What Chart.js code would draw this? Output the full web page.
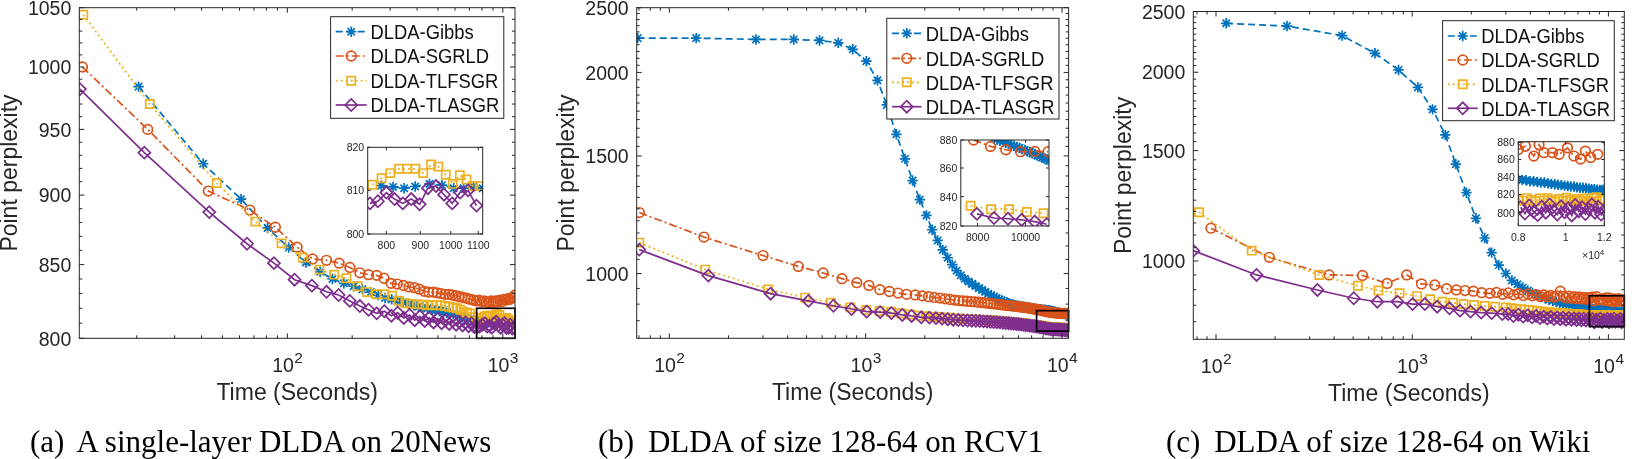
<!DOCTYPE html>
<html>
<head>
<meta charset="utf-8">
<title>DLDA point perplexity versus time</title>
<script src="https://cdn.jsdelivr.net/npm/chart.js@4.4.1/dist/chart.umd.min.js"></script>
<style>
  html, body { margin: 0; padding: 0; background: #fff; }
  #page { position: relative; width: 1632px; height: 459px; overflow: hidden; background: #fff; }
  #page canvas { position: absolute; }
  .caption { position: absolute; top: 426px; font-family: "Liberation Serif", "Times New Roman", serif;
             font-size: 31px; line-height: 31px; color: #000; white-space: nowrap; }
  .caption span { margin-right: 6px; }
</style>
</head>
<body>
<div id="page">
  <canvas id="chartA" width="544" height="459" style="left:0;top:0"></canvas>
  <canvas id="chartB" width="544" height="459" style="left:544px;top:0"></canvas>
  <canvas id="chartC" width="544" height="459" style="left:1088px;top:0"></canvas>
  <canvas id="insetA" width="170" height="125" style="left:327px;top:137px"></canvas>
  <canvas id="insetB" width="135" height="125" style="left:925px;top:130px"></canvas>
  <canvas id="insetC" width="135" height="140" style="left:1485px;top:131px"></canvas>
  <div class="caption" style="left:30px"><span>(a)</span> A single-layer DLDA on 20News</div>
  <div class="caption" style="left:598px"><span>(b)</span> DLDA of size 128-64 on RCV1</div>
  <div class="caption" style="left:1166px"><span>(c)</span> DLDA of size 128-64 on Wiki</div>
</div>
<script>
// ---- (a) single-layer DLDA on 20News ----
var timeGibbsA = [20.4, 40.7, 61, 81, 101.5, 122, 142, 162, 183, 203, 223, 244, 264, 284, 305, 325, 345, 366, 386, 406,
  426, 447, 467, 487, 508, 528, 548, 569, 589, 609, 630, 650, 670, 690, 711, 731, 751, 772, 792, 812,
  833, 853, 873, 894, 914, 934, 955, 975, 995, 1015, 1036, 1056, 1076, 1097, 1117, 1137];
var gibbsA = [984, 923.5, 897, 876, 862, 851.5, 845, 840, 837, 835, 833, 831, 829, 827, 826, 825, 824, 823, 822, 821,
  820.5, 820, 819, 818.5, 818, 817.5, 817, 816.5, 816, 815.5, 815, 814, 813.5, 813, 812.5, 812, 811.5, 811, 811, 810.8,
  810.5, 810.5, 810.8, 811, 811.3, 811.5, 811.2, 811, 810.7, 810.5, 810.5, 810.5, 810.8, 810.6, 810.5, 810.5];
var timeSgrldA = [11.2, 22.5, 43, 67, 88, 111, 131, 152, 174, 195, 217, 238, 260, 281, 303, 324, 346, 367, 389, 410,
  432, 453, 475, 496, 518, 539, 561, 582, 604, 625, 647, 668, 690, 711, 733, 754, 776, 797, 819, 840,
  862, 883, 905, 926, 948, 969, 991, 1012, 1034, 1055, 1077, 1098, 1120, 1139];
var sgrldA = [1000, 950, 903, 889, 876.5, 862.3, 854, 853, 851, 848, 844.3, 843, 842.5, 840.5, 837, 836.5, 835.5, 834.5, 834, 833,
  831.5, 831, 831, 830.5, 830, 829.5, 829.5, 829, 828.5, 828, 827.5, 827, 826.5, 826, 825.5, 825, 825.5, 824.5, 825, 824.5,
  824, 825, 824, 825, 824.5, 825.5, 824.5, 826, 825.5, 826.5, 826, 827, 827.5, 829];
var timeTlfsgrA = [11.3, 23, 47, 71, 94, 118, 141, 165, 188, 212, 235, 259, 282, 306, 329, 353, 376, 400, 423, 447,
  470, 494, 517, 541, 564, 588, 611, 635, 658, 682, 705, 729, 752, 776, 799, 823, 846, 870, 893, 917,
  940, 964, 987, 1011, 1034, 1058, 1081, 1105, 1128];
var tlfsgrA = [1044, 970, 909, 880.6, 865, 855, 846.5, 843, 840.5, 835, 831, 829.5, 829.5, 828.5, 825, 823.5, 823, 822.8, 822.5, 822,
  822.3, 822, 822, 821.5, 821, 820.5, 820, 819, 817.5, 817, 816.5, 814, 811.5, 812, 813.5, 814.5, 815, 815, 814.5, 815,
  816, 815.5, 813.5, 811.5, 813.5, 812.5, 811, 811, 811];
var timeTlasgrA = [10.9, 21.7, 43.4, 65, 86.7, 108, 130, 152, 173, 195, 217, 238, 260, 282, 304, 325, 347, 369, 390, 412,
  434, 455, 477, 499, 520, 542, 564, 586, 607, 629, 651, 672, 694, 716, 737, 759, 781, 802, 824, 846,
  867, 889, 911, 932, 954, 976, 997, 1019, 1041, 1063, 1084, 1106, 1128];
var tlasgrA = [982, 932, 887.5, 864.7, 851, 839.5, 835.4, 831.2, 829, 825, 821.5, 819, 816.6, 818, 815, 817, 813.5, 815.5, 812, 814.5,
  811.5, 813.5, 810.5, 813, 810, 812, 809.5, 811.5, 809, 811, 808.5, 810.5, 808, 810, 807.5, 807.3, 807.7, 809, 810, 807.8,
  808.2, 807, 810, 811, 808.6, 807, 809, 810, 806.7, 807, 809, 806.5, 807];
// inset of (a)
var insetTimeGibbsA = [786, 819, 851, 884, 929, 970, 1010, 1046, 1082, 1117];
var insetGibbsA = [811.1, 810.8, 810.5, 810.9, 811.5, 811.2, 810.5, 810.5, 810.9, 810.5];
var insetTimeTlfsgrA = [762, 787, 811, 836, 860, 885, 909, 934, 958, 983, 1007, 1032, 1056, 1081, 1105];
var insetTlfsgrA = [811.3, 812.8, 814, 815, 815, 815, 814, 816, 815.5, 813.6, 811.5, 813.5, 812.5, 811, 811];
var insetTimeTlasgrA = [756, 777, 800, 823, 847, 872, 898, 924, 950, 977, 1005, 1033, 1062, 1093];
var insetTlasgrA = [807, 807.5, 809.5, 808, 807, 808, 806.8, 810.5, 811, 809, 807, 809.5, 810, 806.5];

// ---- (b) DLDA 128-64 on RCV1 ----
var timeGibbsB = [69, 137, 276, 430, 582, 725, 859, 1008, 1148, 1281, 1433, 1585, 1733, 1886, 2040, 2180, 2326, 2470, 2615, 2760,
  2905, 3050, 3195, 3340, 3485, 3630, 3775, 3920, 4065, 4210, 4355, 4500, 4645, 4790, 4935, 5080, 5225, 5370, 5515, 5660,
  5805, 5950, 6095, 6240, 6385, 6530, 6675, 6820, 6965, 7110, 7255, 7400, 7545, 7690, 7835, 7980, 8125, 8270, 8415, 8560,
  8705, 8850, 8995, 9140, 9285, 9430, 9575, 9720, 9865, 10010, 10155, 10300, 10445, 10590, 10735];
var gibbsB = [2251, 2251, 2241, 2241, 2233, 2215, 2166, 2079, 1946, 1788, 1616, 1485, 1378, 1290, 1222, 1163, 1121, 1085, 1056, 1031,
  1010, 994, 982, 973, 965, 958, 951, 945, 939, 933, 928, 923, 919, 915, 911, 908, 905, 902.5, 900, 898,
  896.5, 895, 894, 893, 892, 891, 890, 889, 888, 887, 886, 885, 884.6, 884.1, 883.6, 883.1, 882.6, 882.1, 881.6, 881,
  880.4, 879.2, 878, 877.2, 876.3, 875.6, 874.5, 873.6, 872.5, 871.8, 870.9, 870, 869.3, 868.2, 867.3];
var timeSgrldB = [70.3, 150, 300, 454, 607, 757, 901, 1038, 1181, 1322, 1462, 1617, 1789, 1940, 2090, 2240, 2390, 2540, 2690, 2840,
  2990, 3140, 3290, 3440, 3590, 3740, 3890, 4040, 4190, 4340, 4490, 4640, 4790, 4940, 5090, 5240, 5390, 5540, 5690, 5840,
  5990, 6140, 6290, 6440, 6590, 6740, 6890, 7040, 7190, 7340, 7490, 7640, 7790, 7940, 8090, 8240, 8390, 8540, 8690, 8840,
  8990, 9140, 9290, 9440, 9590, 9740, 9890, 10040, 10190, 10340, 10490, 10640, 10790];
var sgrldB = [1234, 1134, 1064, 1025, 1002, 982.5, 969, 960, 946, 940, 935, 931, 929, 926, 923.5, 921, 919, 916.5, 914.5, 912.5,
  911, 910, 909, 908, 907, 906, 905, 904, 903, 902, 901, 900, 899, 898, 897, 896, 895.5, 894.5, 894, 893,
  892, 891, 890.5, 889.5, 889, 888, 887, 886, 885, 884.5, 883.5, 882.5, 881.5, 880.5, 879, 878, 877, 876, 875, 874.5,
  874, 873.5, 873, 872.5, 872, 872, 871.5, 871.5, 871.5, 871.8, 871.8, 871.6, 871.6];
var timeTlfsgrB = [70.3, 152.5, 319, 492, 666, 836, 1006, 1176, 1346, 1516, 1686, 1856, 2026, 2196, 2366, 2536, 2706, 2876, 3046, 3216,
  3386, 3556, 3726, 3896, 4066, 4236, 4406, 4576, 4746, 4916, 5086, 5256, 5426, 5596, 5766, 5936, 6106, 6276, 6446, 6616,
  6786, 6956, 7126, 7296, 7466, 7636, 7806, 7976, 8146, 8316, 8486, 8656, 8826, 8996, 9166, 9336, 9506, 9676, 9846, 10016,
  10186, 10356, 10526, 10696];
var tlfsgrB = [1112.5, 1013.7, 947, 920.4, 904.6, 890, 882, 879, 876.5, 872, 868.5, 865, 863.5, 862, 861, 859.5, 858.5, 857, 856, 855,
  854.5, 854, 853, 852.5, 852, 851, 850.5, 850, 849, 848.5, 848, 847, 846.5, 845.5, 845, 844, 843.5, 842.5, 842, 841,
  840.5, 839.5, 839, 838, 837.5, 836.5, 835.5, 834.5, 833.5, 833, 832, 831.5, 831.5, 831.5, 831.5, 831, 830.5, 830, 830, 829.5,
  829, 829, 828.5, 828.5];
var timeTlasgrB = [70.3, 158, 328, 511, 685, 847, 1012, 1185, 1352, 1536, 1713, 1920, 2111, 2280, 2450, 2620, 2790, 2960, 3130, 3300,
  3470, 3640, 3810, 3980, 4150, 4320, 4490, 4660, 4830, 5000, 5170, 5340, 5510, 5680, 5850, 6020, 6190, 6360, 6530, 6700,
  6870, 7040, 7210, 7380, 7550, 7720, 7890, 8060, 8230, 8400, 8570, 8740, 8910, 9080, 9250, 9420, 9590, 9760, 9930, 10100,
  10270, 10440, 10610, 10780];
var tlasgrB = [1086, 993, 933, 910, 895, 885, 877, 875.5, 872.5, 867, 864, 860, 859, 857.5, 856, 854.5, 853, 852, 851, 850.5,
  850, 849.5, 849, 848, 847.5, 847, 846, 845.5, 845, 844, 843.5, 842.5, 842, 841, 840.5, 839.5, 839, 838, 837, 836.5,
  835.5, 835, 834, 833, 832, 831, 830, 829, 828, 827, 826.5, 826, 825.5, 825, 825, 824.5, 824.5, 824, 824, 823.5,
  823, 823, 822, 821.5];
// inset of (b)
var insetTimeGibbsB = [8640, 8760, 8880, 9000, 9120, 9240, 9360, 9480, 9600, 9720, 9840, 9960, 10080, 10200, 10320, 10440,
  10560, 10680, 10800, 10920, 11040, 11150];
var insetGibbsB = [881, 880.3, 879.4, 878.8, 877.9, 877.3, 876.4, 875.8, 874.9, 874.3, 873.4, 872.8, 871.9, 871.3, 870.4, 869.8,
  868.9, 868.3, 867.4, 866.8, 866, 865.2];
var insetTimeSgrldB = [7850, 8496, 9123, 9770, 10437, 11100];
var insetSgrldB = [880, 875.4, 873, 871.6, 871.8, 871.6];
var insetTimeTlfsgrB = [7746, 8520, 9263, 10056, 10867];
var insetTlfsgrB = [833.7, 831.4, 831.4, 829.5, 828.6];
var insetTimeTlasgrB = [7975, 8636, 9215, 9818, 10437, 11030];
var insetTlasgrB = [828.2, 825.4, 824.9, 824.2, 823, 821.2];

// ---- (c) DLDA 128-64 on Wiki ----
var timeGibbsC = [112.6, 230, 439, 646, 852, 1068, 1270, 1474, 1668, 1889, 2111, 2341, 2541, 2762, 3000, 3220, 3440, 3660, 3880, 4100,
  4320, 4540, 4760, 4980, 5200, 5420, 5640, 5860, 6080, 6300, 6520, 6740, 6960, 7180, 7400, 7620, 7840, 8060, 8280, 8500,
  8720, 8940, 9160, 9380, 9600, 9820, 10040, 10260, 10480, 10700, 10920, 11140, 11360, 11580, 11800, 12020];
var gibbsC = [2394, 2370, 2288, 2144, 2017, 1892, 1745, 1589, 1427, 1285, 1170, 1088, 1031, 985, 955, 931, 918, 907, 897, 889,
  883, 877, 872, 867, 864, 860, 857, 854.5, 852.5, 850.5, 849, 847.5, 846, 845, 843.5, 842.5, 841, 840, 839, 838.5,
  837.5, 837, 836, 835.5, 835, 834, 833.5, 833, 832.5, 832, 831, 830.5, 830, 829.5, 829, 828.5];
var timeSgrldC = [94.2, 187, 377, 558, 745, 937, 1115, 1303, 1497, 1679, 1857, 2052, 2260, 2485, 2690, 2890, 3090, 3290, 3490, 3690,
  3890, 4090, 4290, 4490, 4690, 4890, 5090, 5290, 5490, 5690, 5890, 6090, 6290, 6490, 6690, 6890, 7090, 7290, 7490, 7690,
  7890, 8090, 8290, 8490, 8690, 8890, 9090, 9290, 9490, 9690, 9890, 10090, 10290, 10490, 10690, 10890, 11090, 11290, 11490, 11690,
  11890, 12040];
var sgrldC = [1128, 1013.5, 950, 948, 921, 950, 919, 915.5, 903, 899, 897, 895, 890, 888, 891, 885, 889, 883, 887, 881,
  886, 880, 884, 878, 883, 877, 881, 876, 880, 895, 878, 873, 879, 872, 877, 871, 876, 870, 875, 869,
  874, 872, 875.5, 864, 877, 868, 868, 870, 866, 873.5, 864, 873, 864, 860.5, 869.8, 862.3, 866, 871, 863, 866,
  862, 866];
var timeTlfsgrC = [81.9, 152, 336, 529, 673, 862, 1060, 1234, 1425, 1614, 1827, 2067, 2340, 2647, 3000, 3190, 3380, 3570, 3760, 3950,
  4140, 4330, 4520, 4710, 4900, 5090, 5280, 5470, 5660, 5850, 6040, 6230, 6420, 6610, 6800, 6990, 7180, 7370, 7560, 7750,
  7940, 8130, 8320, 8510, 8700, 8890, 9080, 9270, 9460, 9650, 9840, 10030, 10220, 10410, 10600, 10790, 10980, 11170, 11360, 11550,
  11740, 11930];
var tlfsgrC = [1196, 1038.6, 950, 913, 897, 888, 879, 868.7, 861, 857.8, 853.7, 850.5, 847.4, 845.4, 843, 841, 839.5, 838, 836.5, 835,
  833.5, 832, 831, 830, 829, 828, 827, 826, 825.5, 825, 824.5, 824, 823.5, 823, 822.5, 822, 821.5, 821, 820.5, 820.5,
  820, 819, 820.5, 818, 819.5, 817.5, 820, 818, 816.5, 819, 817, 818.5, 816, 819.5, 817, 818, 816.5, 820, 817.5, 819,
  816, 818];
var timeTlasgrC = [76.6, 161, 329, 503.5, 664, 841, 1004, 1160, 1341, 1549, 1752, 1984, 2246, 2541, 2877,
  3080, 3280, 3480, 3680, 3880, 4080, 4280, 4480, 4680, 4880, 5080, 5280, 5480, 5680, 5880, 6080, 6280, 6480, 6680, 6880,
  7080, 7280, 7480, 7680, 7880, 8080, 8280, 8480, 8680, 8880, 9080, 9280, 9480, 9680, 9880, 10080, 10280, 10480, 10680, 10880,
  11080, 11280, 11480, 11680, 11880, 12040];
var tlasgrC = [1038.6, 950, 899, 872, 861, 861, 853.7, 853.7, 845.4, 840.4, 833.2, 830.3, 827.4, 825.6, 822.7,
  823, 817, 821, 815, 819, 813, 817, 811, 815, 809.5, 814, 808, 813, 807.5, 812, 806, 811, 805.5, 810, 805,
  809.5, 804, 809, 803.5, 808.5, 803, 808, 798.5, 806, 801, 809, 799, 805, 802, 808.5, 798, 806.5, 800.5, 809, 799.5,
  804, 801, 808, 798.5, 805, 802];
// inset of (c)
var insetTimeGibbsC = [8000, 8150, 8300, 8450, 8600, 8750, 8900, 9050, 9200, 9350, 9500, 9650, 9800, 9950, 10100, 10250,
  10400, 10550, 10700, 10850, 11000, 11150, 11300, 11450, 11600, 11750, 11900, 12000];
var insetGibbsC = [837, 836.5, 836, 835, 835, 834, 833.5, 833.5, 832.5, 832, 831.5, 831, 830.5, 830, 829.5, 829,
  829, 828, 827.5, 827.5, 827, 826.5, 826, 826, 825.5, 825, 825, 825.5];
var insetTimeSgrldC = [8000, 8272, 8608, 8822, 9031, 9400, 9699, 10086, 10401, 10727, 10977, 11255, 11631];
var insetSgrldC = [871.7, 875.5, 864, 877.4, 868, 868, 866, 873.7, 864, 860.4, 869.8, 862.3, 866];
var insetTimeTlfsgrC = [8000, 8170, 8340, 8510, 8680, 8850, 9020, 9190, 9360, 9530, 9700, 9870, 10040, 10210, 10380, 10550,
  10720, 10890, 11060, 11230, 11400, 11570, 11740, 11910];
var insetTlfsgrC = [815, 813, 816, 814, 812.5, 815.5, 813.5, 816, 814, 812, 815, 813, 816.5, 814, 812.5, 815,
  813, 815.5, 813.5, 812, 816, 817, 813.5, 815];
var insetTimeTlasgrC = [8085, 8255, 8425, 8595, 8765, 8935, 9105, 9275, 9445, 9615, 9785, 9955, 10125, 10295, 10465, 10635,
  10805, 10975, 11145, 11315, 11485, 11655, 11825, 11995];
var insetTlasgrC = [806, 799, 808, 801, 797.5, 806.5, 800, 809, 802, 798, 807, 800.5, 805, 797, 808.5, 801.5,
  806, 798.5, 804, 809, 800, 806.5, 798, 803];

// ---- axes: ranges and tick values ----
var rangeXA = [10.83, 1139], rangeYA = [800, 1050];
var rangeXB = [68.2, 10800], rangeYB = [800, 2500];
var rangeXC = [76.6, 12050], rangeYC = [750, 2500];
var ticksXA = [100, 1000], ticksYA = [800, 850, 900, 950, 1000, 1050];
var ticksXB = [100, 1000, 10000], ticksYB = [1000, 1500, 2000, 2500];
var ticksXC = [100, 1000, 10000], ticksYC = [1000, 1500, 2000, 2500];
var zoomBoxA = [756, 1139, 800, 820];
var zoomBoxB = [7420, 10800, 820, 880];
var zoomBoxC = [8000, 12050, 786, 880];
var insetRangeXA = [750, 1117], insetRangeYA = [800, 820];
var insetRangeXB = [7400, 11150], insetRangeYB = [820, 880];
var insetRangeXC = [8000, 12000], insetRangeYC = [786, 881];
var insetTicksXA = [800, 900, 1000, 1100], insetTicksYA = [800, 810, 820];
var insetTicksXB = [8000, 10000], insetTicksYB = [820, 840, 860, 880];
var insetTicksXC = [8000, 10000, 12000], insetTicksYC = [800, 820, 840, 860, 880];
var insetTickLabelsXC = ['0.8', '1', '1.2'];

// ---- styles (MATLAB default colour order) ----
var SERIES_NAMES = ['DLDA-Gibbs', 'DLDA-SGRLD', 'DLDA-TLFSGR', 'DLDA-TLASGR'];
var SERIES_COLORS = ['#0072BD', '#D95319', '#EDB120', '#7E2F8E'];
var SERIES_MARKERS = ['star', 'circle', 'rect', 'rectRot'];
var SERIES_DASH = [[7, 4], [8, 3, 2, 3], [2, 3], []];
var MARKER_RADIUS = [5.2, 4.8, 5.8, 6];
var AXIS_COLOR = '#262626';
var SANS = '"Liberation Sans", Arial, Helvetica, sans-serif';

function makeSeries(i, times, values) {
  var n = Math.min(times.length, values.length);
  var pts = [];
  for (var k = 0; k < n; k++) {
    pts.push({x: times[k], y: values[k]});
  }
  return {
    label: SERIES_NAMES[i],
    data: pts,
    showLine: true,
    borderColor: SERIES_COLORS[i],
    backgroundColor: 'rgba(0,0,0,0)',
    borderWidth: 1.7,
    borderDash: SERIES_DASH[i],
    pointStyle: SERIES_MARKERS[i],
    pointRadius: MARKER_RADIUS[i],
    pointBorderColor: SERIES_COLORS[i],
    pointBackgroundColor: 'rgba(0,0,0,0)',
    pointBorderWidth: 1.7,
    order: 3 - i
  };
}

function logMinor(lo, hi) {
  var out = [];
  for (var d = 1; d <= 100000; d *= 10) {
    for (var m = 2; m <= 9; m++) {
      if (m * d > lo && m * d < hi) out.push(m * d);
    }
  }
  return out;
}

function linearMinor(from, to, step, skip) {
  var out = [];
  for (var v = from; v <= to; v += step) {
    if (skip.indexOf(v) < 0) out.push(v);
  }
  return out;
}

function strokeLine(ctx, x0, y0, x1, y1) {
  ctx.beginPath();
  ctx.moveTo(x0, y0);
  ctx.lineTo(x1, y1);
  ctx.stroke();
}

// same shapes as the Chart.js point styles, for the legend samples
function drawMarker(ctx, style, x, y, r) {
  ctx.beginPath();
  if (style === 'circle') {
    ctx.arc(x, y, r, 0, Math.PI * 2);
  } else if (style === 'rect') {
    var s = r * Math.SQRT1_2;
    ctx.rect(x - s, y - s, 2 * s, 2 * s);
  } else if (style === 'rectRot') {
    ctx.moveTo(x - r, y); ctx.lineTo(x, y - r); ctx.lineTo(x + r, y); ctx.lineTo(x, y + r);
    ctx.closePath();
  } else {
    var q = r * Math.SQRT1_2;
    ctx.moveTo(x, y - r); ctx.lineTo(x, y + r);
    ctx.moveTo(x - r, y); ctx.lineTo(x + r, y);
    ctx.moveTo(x - q, y - q); ctx.lineTo(x + q, y + q);
    ctx.moveTo(x - q, y + q); ctx.lineTo(x + q, y - q);
  }
  ctx.stroke();
}

// MATLAB-like box axes, inward ticks, labels, legend and zoom rectangle
function axesPlugin(cfg) {
  return {
    id: 'matlabAxes',
    beforeDatasetsDraw: function (chart) {
      if (!cfg.whiteArea) return;
      var a = chart.chartArea, ctx = chart.ctx;
      ctx.save();
      ctx.fillStyle = '#ffffff';
      ctx.fillRect(a.left, a.top, a.right - a.left, a.bottom - a.top);
      ctx.restore();
    },
    afterDraw: function (chart) {
      var ctx = chart.ctx, a = chart.chartArea;
      var xs = chart.scales.x, ys = chart.scales.y;
      ctx.save();

      if (cfg.zoomBox) {
        var bx0 = xs.getPixelForValue(cfg.zoomBox[0]), bx1 = xs.getPixelForValue(cfg.zoomBox[1]);
        var by0 = ys.getPixelForValue(cfg.zoomBox[2]), by1 = ys.getPixelForValue(cfg.zoomBox[3]);
        ctx.strokeStyle = '#000';
        ctx.lineWidth = 1.7;
        ctx.strokeRect(bx0, by1, bx1 - bx0, by0 - by1);
      }

      ctx.strokeStyle = AXIS_COLOR;
      ctx.lineWidth = 1;
      ctx.strokeRect(a.left, a.top, a.right - a.left, a.bottom - a.top);

      function xTick(v, len) {
        var p = xs.getPixelForValue(v);
        strokeLine(ctx, p, a.bottom, p, a.bottom - len);
        strokeLine(ctx, p, a.top, p, a.top + len);
      }
      function yTick(v, len) {
        var p = ys.getPixelForValue(v);
        strokeLine(ctx, a.left, p, a.left + len, p);
        strokeLine(ctx, a.right, p, a.right - len, p);
      }
      (cfg.xMinor || []).forEach(function (v) { xTick(v, cfg.minorLen); });
      (cfg.yMinor || []).forEach(function (v) { yTick(v, cfg.minorLen); });
      cfg.xTicks.forEach(function (v) { xTick(v, cfg.tickLen); });
      cfg.yTicks.forEach(function (v) { yTick(v, cfg.tickLen); });

      var font = cfg.fontSize + 'px ' + SANS;
      ctx.fillStyle = AXIS_COLOR;
      ctx.textBaseline = 'alphabetic';
      ctx.font = font;
      ctx.textAlign = 'right';
      cfg.yTicks.forEach(function (v) {
        ctx.fillText(String(v), a.left - cfg.yLabelGap, ys.getPixelForValue(v) + cfg.fontSize * 0.37);
      });

      cfg.xTicks.forEach(function (v, k) {
        var p = xs.getPixelForValue(v), base = a.bottom + cfg.xLabelDrop;
        if (cfg.xLabels) {
          ctx.font = font;
          ctx.textAlign = 'center';
          ctx.fillText(cfg.xLabels[k], p, base);
          return;
        }
        var e = String(Math.round(Math.log10(v)));
        ctx.font = font;
        var w1 = ctx.measureText('10').width;
        ctx.font = cfg.expSize + 'px ' + SANS;
        var w2 = ctx.measureText(e).width;
        var x0 = p - (w1 + w2) / 2;
        ctx.textAlign = 'left';
        ctx.font = font;
        ctx.fillText('10', x0, base);
        ctx.font = cfg.expSize + 'px ' + SANS;
        ctx.fillText(e, x0 + w1 + 0.5, base - cfg.expRise);
      });

      if (cfg.multiplier) {
        ctx.font = '8px ' + SANS;
        var we = ctx.measureText(cfg.multiplier[1]).width;
        ctx.textAlign = 'right';
        ctx.fillText(cfg.multiplier[1], a.right, a.bottom + 29);
        ctx.font = font;
        ctx.fillText(cfg.multiplier[0], a.right - we, a.bottom + 33);
      }

      if (cfg.xTitle) {
        ctx.font = '23px ' + SANS;
        ctx.textAlign = 'center';
        ctx.fillText(cfg.xTitle, (a.left + a.right) / 2, a.bottom + 61.5);
      }
      if (cfg.yTitle) {
        ctx.save();
        ctx.font = '23px ' + SANS;
        ctx.translate(a.left - 62.3, (a.top + a.bottom) / 2);
        ctx.rotate(-Math.PI / 2);
        ctx.textAlign = 'center';
        ctx.fillText(cfg.yTitle, 0, 0);
        ctx.restore();
      }

      if (cfg.legend) {
        var L = cfg.legend;
        ctx.fillStyle = '#ffffff';
        ctx.fillRect(L.x, L.y, L.w, L.h);
        ctx.strokeStyle = AXIS_COLOR;
        ctx.lineWidth = 1;
        ctx.strokeRect(L.x, L.y, L.w, L.h);
        ctx.font = '18.4px ' + SANS;
        ctx.textAlign = 'left';
        chart.data.datasets.forEach(function (ds, i) {
          var y = L.rows[i];
          ctx.strokeStyle = ds.borderColor;
          ctx.lineWidth = ds.borderWidth;
          ctx.setLineDash(ds.borderDash);
          strokeLine(ctx, L.line[0], y, L.line[1], y);
          ctx.setLineDash([]);
          ctx.lineWidth = ds.pointBorderWidth;
          drawMarker(ctx, ds.pointStyle, (L.line[0] + L.line[1]) / 2, y, ds.pointRadius);
          // legend text of the figure is slightly stretched vertically
          ctx.save();
          ctx.translate(L.text, y + 7.4);
          ctx.scale(1, 1.14);
          ctx.fillStyle = '#111111';
          ctx.fillText(ds.label, 0, 0);
          ctx.restore();
        });
      }
      ctx.restore();
    }
  };
}

function drawPanel(id, datasets, cfg) {
  return new Chart(document.getElementById(id), {
    type: 'scatter',
    data: { datasets: datasets },
    options: {
      responsive: false,
      animation: false,
      events: [],
      layout: { padding: cfg.padding },
      scales: {
        x: { type: 'logarithmic', min: cfg.xRange[0], max: cfg.xRange[1], display: false },
        y: { type: 'logarithmic', min: cfg.yRange[0], max: cfg.yRange[1], display: false }
      },
      plugins: { legend: { display: false }, tooltip: { enabled: false } }
    },
    plugins: [axesPlugin(cfg)]
  });
}

var mainStyle = { tickLen: 5, minorLen: 3, fontSize: 19.5, expSize: 15.5, expRise: 8.6,
  yLabelGap: 8, xLabelDrop: 33.4, xTitle: 'Time (Seconds)', yTitle: 'Point perplexity' };
var insetStyle = { tickLen: 3, minorLen: 0, fontSize: 10.5, yLabelGap: 3.5, xLabelDrop: 15, whiteArea: true };

function withStyle(base, extra) {
  var out = {};
  Object.keys(base).forEach(function (k) { out[k] = base[k]; });
  Object.keys(extra).forEach(function (k) { out[k] = extra[k]; });
  return out;
}

drawPanel('chartA', [
  makeSeries(0, timeGibbsA, gibbsA), makeSeries(1, timeSgrldA, sgrldA),
  makeSeries(2, timeTlfsgrA, tlfsgrA), makeSeries(3, timeTlasgrA, tlasgrA)
], withStyle(mainStyle, {
  padding: { left: 79.3, right: 29, top: 6.7, bottom: 120.7 },
  xRange: rangeXA, yRange: rangeYA, xTicks: ticksXA, yTicks: ticksYA,
  xMinor: logMinor(rangeXA[0], rangeXA[1]), yMinor: linearMinor(810, 1040, 10, ticksYA),
  zoomBox: zoomBoxA,
  legend: { x: 330.6, y: 16.7, w: 173.2, h: 101.6, rows: [31.7, 56, 80.7, 105], line: [335.7, 366.7], text: 370.5 }
}));

drawPanel('chartB', [
  makeSeries(0, timeGibbsB, gibbsB), makeSeries(1, timeSgrldB, sgrldB),
  makeSeries(2, timeTlfsgrB, tlfsgrB), makeSeries(3, timeTlasgrB, tlasgrB)
], withStyle(mainStyle, {
  padding: { left: 92.7, right: 19.4, top: 7.3, bottom: 120.7 },
  xRange: rangeXB, yRange: rangeYB, xTicks: ticksXB, yTicks: ticksYB,
  xMinor: logMinor(rangeXB[0], rangeXB[1]), yMinor: linearMinor(850, 2450, 50, ticksYB),
  zoomBox: zoomBoxB,
  legend: { x: 342.8, y: 18.3, w: 172.2, h: 100.7, rows: [33.3, 58.3, 82.3, 106.7], line: [348, 377.5], text: 381.7 }
}));

drawPanel('chartC', [
  makeSeries(0, timeGibbsC, gibbsC), makeSeries(1, timeSgrldC, sgrldC),
  makeSeries(2, timeTlfsgrC, tlfsgrC), makeSeries(3, timeTlasgrC, tlasgrC)
], withStyle(mainStyle, {
  padding: { left: 105.3, right: 7.6, top: 11.5, bottom: 119.7 },
  xRange: rangeXC, yRange: rangeYC, xTicks: ticksXC, yTicks: ticksYC,
  xMinor: logMinor(rangeXC[0], rangeXC[1]), yMinor: linearMinor(800, 2450, 50, ticksYC),
  zoomBox: zoomBoxC,
  legend: { x: 354.6, y: 20.7, w: 171.7, h: 100, rows: [36, 60, 84.3, 108.3], line: [359.8, 389.7], text: 393.3 }
}));

drawPanel('insetA', [
  makeSeries(0, insetTimeGibbsA, insetGibbsA),
  makeSeries(2, insetTimeTlfsgrA, insetTlfsgrA), makeSeries(3, insetTimeTlasgrA, insetTlasgrA)
], withStyle(insetStyle, {
  padding: { left: 40.7, right: 14.3, top: 10.3, bottom: 28 },
  xRange: insetRangeXA, yRange: insetRangeYA, xTicks: insetTicksXA, yTicks: insetTicksYA,
  xLabels: insetTicksXA.map(String)
}));

drawPanel('insetB', [
  makeSeries(0, insetTimeGibbsB, insetGibbsB), makeSeries(1, insetTimeSgrldB, insetSgrldB),
  makeSeries(2, insetTimeTlfsgrB, insetTlfsgrB), makeSeries(3, insetTimeTlasgrB, insetTlasgrB)
], withStyle(insetStyle, {
  padding: { left: 35.8, right: 11, top: 10, bottom: 29 },
  xRange: insetRangeXB, yRange: insetRangeYB, xTicks: insetTicksXB, yTicks: insetTicksYB,
  xLabels: insetTicksXB.map(String)
}));

drawPanel('insetC', [
  makeSeries(0, insetTimeGibbsC, insetGibbsC), makeSeries(1, insetTimeSgrldC, insetSgrldC),
  makeSeries(2, insetTimeTlfsgrC, insetTlfsgrC), makeSeries(3, insetTimeTlasgrC, insetTlasgrC)
], withStyle(insetStyle, {
  padding: { left: 33.3, right: 15.7, top: 10.7, bottom: 45.3 },
  xRange: insetRangeXC, yRange: insetRangeYC, xTicks: insetTicksXC, yTicks: insetTicksYC,
  xLabels: insetTickLabelsXC, multiplier: ['\u00d710', '4']
}));
</script>
</body>
</html>
